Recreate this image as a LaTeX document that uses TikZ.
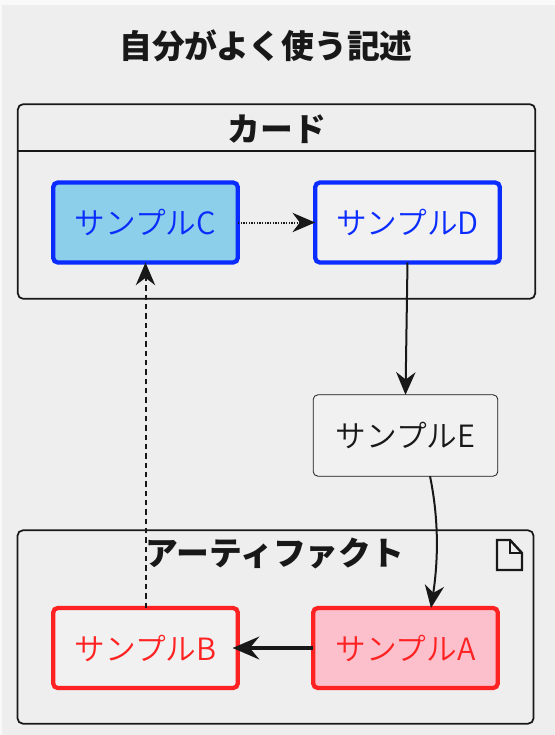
\documentclass[tikz,border=0pt]{standalone}
\usepackage{xcolor}
\usepackage{fontspec}
\setmainfont{Liberation Sans}
\newfontfamily\cjk{Noto Sans CJK JP}
\newfontfamily\cjklight{Noto Sans CJK JP DemiLight}
\usetikzlibrary{arrows.meta}

\definecolor{pagebg}{HTML}{EEEEEE}
\definecolor{pagestrip}{HTML}{F9F9F9}
\definecolor{boxbg}{HTML}{F1F1F1}
\definecolor{inkc}{HTML}{181818}
\definecolor{blueln}{HTML}{0A2CFF}
\definecolor{redln}{HTML}{FF2222}
\definecolor{skyfill}{HTML}{8CCFEA}
\definecolor{pinkfill}{HTML}{FBC0CC}

\begin{document}
\begin{tikzpicture}[
    x=0.75pt, y=-0.75pt,
    % ---------- styles ----------
    ttl/.style={font=\cjk\fontsize{24.6}{28}\selectfont\bfseries, text=inkc},
    grp/.style={draw=inkc, line width=1.3pt, rounded corners=4pt, fill=none,
      outer sep=0pt, minimum width=388pt},
    samp/.style={rounded corners=3.5pt, fill=boxbg, outer sep=0pt,
      minimum width=138.5pt, minimum height=60pt, inner sep=0pt,
      font=\cjklight\fontsize{23}{26}\selectfont},
    bluebox/.style={samp, draw=blueln, text=blueln, line width=3.2pt},
    redbox/.style={samp, draw=redln, text=redln, line width=3.2pt},
    plainbox/.style={samp, draw=inkc, text=inkc, line width=0.6pt,
      minimum height=61pt},
    arr/.style={-{Stealth[length=17pt, width=14.5pt, inset=5.5pt]}, draw=inkc,
      line width=1.5pt}
]

\useasboundingbox (0,0) rectangle (555,735);

% ====== Background ======
\fill[pagestrip] (0,0) rectangle (555,735);
\fill[pagebg] (2,5) rectangle (555,735);

% ====== Title ======
\node[ttl] (title) at (266,46) {自分がよく使う記述};

% ====== Groups ======
\node[grp, minimum height=146pt] (cardgrp) at (276.5,201.5) {};
\node[ttl] (cardlabel) at (277,129) {カード};
\draw[inkc, line width=1.3pt] (cardgrp.west |- 0,151) -- (cardgrp.east |- 0,151);

\node[grp, minimum width=387pt, minimum height=145pt] (artgrp) at (275.5,627) {};
\node[ttl] (artlabel) at (275,553) {アーティファクト};

% ====== Artefact icon ======
\draw[inkc, line width=1.8pt] (497,540) -- (510,540) -- (522,553) -- (522,570)
  -- (497,570) -- cycle;
\draw[inkc, line width=1.8pt] (510,540) -- (510,553) -- (522,553);

% ====== Samples ======
\node[bluebox, fill=skyfill] (sampleC) at (145.5,222.5) {サンプルC};
\node[bluebox] (sampleD) at (407.5,222.5) {サンプルD};
\node[plainbox] (sampleE) at (405.5,435.5) {サンプルE};
\node[redbox] (sampleB) at (145.5,648) {サンプルB};
\node[redbox, fill=pinkfill] (sampleA) at (405.5,648) {サンプルA};

% ====== Arrows ======
\draw[arr, dash pattern=on 1pt off 1pt] (sampleC.east) -- (sampleD.west);
\draw[arr] (sampleD.south) -- (sampleE.north);
\draw[arr] (sampleE.south -| 430,0) .. controls (438,515) and (439,555) .. (sampleA.north -| 431,0);
\draw[arr, -{Stealth[length=20pt, width=17pt, inset=7pt]}, line width=3pt, shorten >=-4pt] (sampleA.west) -- (sampleB.east);
\draw[arr, dash pattern=on 4pt off 3pt] (sampleB.north) -- (sampleC.south);

\end{tikzpicture}
\end{document}
